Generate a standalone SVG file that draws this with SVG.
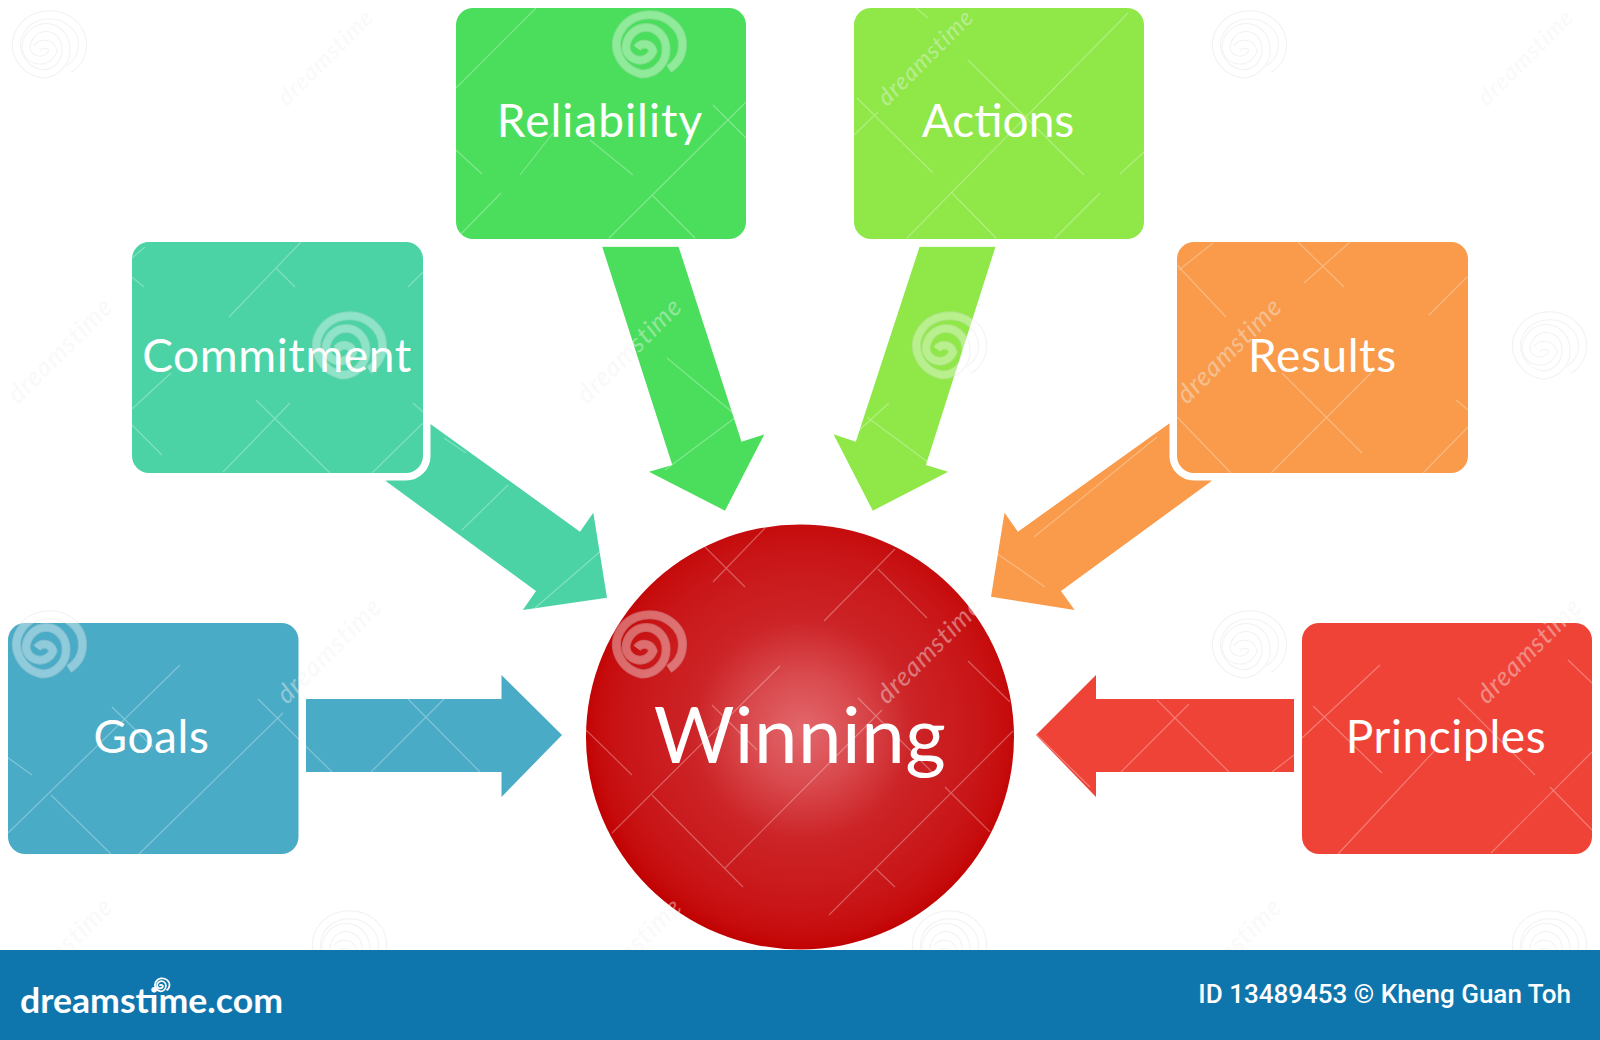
<svg xmlns="http://www.w3.org/2000/svg" xmlns:xlink="http://www.w3.org/1999/xlink" width="1600" height="1040" viewBox="0 0 1600 1040">
<style>
.box{stroke:#fff;stroke-width:15;paint-order:stroke}
.lab{font-family:"Lato","Open Sans",sans-serif;font-size:46px;fill:#fff;text-anchor:middle;letter-spacing:.6px}
.wl{stroke:#fff;stroke-width:1.2;opacity:.3;fill:none}
.wt{font-family:"Lato","Noto Sans",sans-serif;font-style:italic;font-size:26px;fill:#f2f2f2;opacity:.42;letter-spacing:1px}
.wts{font-size:23.5px}
.sp1{fill:none;stroke:#dedede;stroke-width:9}
.sp2{fill:none;stroke:#fff;stroke-width:7}
</style>
<defs>
<radialGradient id="ball" cx="803" cy="730" r="220" gradientUnits="userSpaceOnUse">
<stop offset="0" stop-color="#e2686c"/>
<stop offset=".25" stop-color="#d94a4e"/>
<stop offset=".5" stop-color="#cc2427"/>
<stop offset=".8" stop-color="#c91618"/>
<stop offset=".93" stop-color="#c60c0d"/>
<stop offset="1" stop-color="#c10101"/>
</radialGradient>
<path id="spp" d="M25,24A33,30 0 1 0 -2,29A24,24 0 0 0 22,4A20,21 0 0 0 -18,3A14,14 0 0 0 9,6A9,9 0 0 0 -7,3"/>
<g id="spiral" opacity=".38">
<use href="#spp" class="sp1"/>
<use href="#spp" class="sp2"/>
</g>
</defs>
<rect width="1600" height="1040" fill="#fff"/>
<g id="connectors">
<polygon fill="#4aabc6" points="306,699 501.5,699 501.5,675 562,735 501.5,797 501.5,772 306,772"/>
<polygon fill="#f04338" points="1294,699 1096,699 1096,675 1036,735 1096,797 1096,772 1294,772"/>
<polygon fill="#4bd3a6" points="430.4,424 580,531.7 593.3,512.7 607,597.7 522.8,610 536,591 385.7,481"/>
<polygon fill="#4ade5c" points="602.2,246.7 678.6,246.7 741.5,441.7 764.3,434.3 725,510.7 649,471.7 672.3,465"/>
<polygon fill="#8fe848" points="919.6,246.7 995.5,246.7 925.9,465 948.2,471.7 872.8,510.7 833.5,434.3 855.8,441.7"/>
<polygon fill="#f99b4a" points="1169.6,423.3 1017.9,531.7 1004.5,512.7 991,596.7 1074.6,610 1061,591 1211.6,481"/>
</g>
<g id="node-goals"><rect class="box" x="8" y="623" width="290.500" height="231" rx="17" fill="#4aabc6"/><text class="lab" x="151.500" y="752.700">Goals</text></g>
<g id="node-commitment"><rect class="box" x="132" y="242" width="291" height="231" rx="17" fill="#4bd3a6"/><text class="lab" x="277" y="372">Commitment</text></g>
<g id="node-reliability"><rect class="box" x="456" y="8" width="290" height="231" rx="17" fill="#4ade5c"/><text class="lab" x="600" y="136.700" style="letter-spacing:1px">Reliability</text></g>
<g id="node-actions"><rect class="box" x="854" y="8" width="290" height="231" rx="17" fill="#8fe848"/><text class="lab" x="998" y="136.700" style="letter-spacing:0">Actions</text></g>
<g id="node-results"><rect class="box" x="1177" y="242" width="291" height="231" rx="17" fill="#f99b4a"/><text class="lab" x="1322.400" y="372">Results</text></g>
<g id="node-principles"><rect class="box" x="1302" y="623" width="290" height="231" rx="17" fill="#f04338"/><text class="lab" x="1446" y="752.700">Principles</text></g>
<g id="node-winning"><ellipse cx="800" cy="737" rx="214" ry="212.500" fill="url(#ball)"/><text class="lab" x="800" y="762.700" style="font-size:78px;letter-spacing:.5px">Winning</text></g>
<g id="watermark">
<use href="#spiral" x="44" y="45"/>
<use href="#spiral" x="644" y="45"/>
<use href="#spiral" x="1244" y="45"/>
<use href="#spiral" x="344" y="346"/>
<use href="#spiral" x="944" y="346"/>
<use href="#spiral" x="1544" y="346"/>
<use href="#spiral" x="44" y="645"/>
<use href="#spiral" x="644" y="645"/>
<use href="#spiral" x="1244" y="645"/>
<use href="#spiral" x="344" y="945"/>
<use href="#spiral" x="944" y="945"/>
<use href="#spiral" x="1544" y="945"/>
<text class="wt wts" transform="translate(287,107) rotate(-45)">dreamstime</text>
<text class="wt wts" transform="translate(887,107) rotate(-45)">dreamstime</text>
<text class="wt wts" transform="translate(1487,107) rotate(-45)">dreamstime</text>
<text class="wt" transform="translate(18,405) rotate(-45)">dreamstime</text>
<text class="wt" transform="translate(587,405) rotate(-45)">dreamstime</text>
<text class="wt" transform="translate(1187,405) rotate(-45)">dreamstime</text>
<text class="wt" transform="translate(287,705) rotate(-45)">dreamstime</text>
<text class="wt" transform="translate(887,705) rotate(-45)">dreamstime</text>
<text class="wt" transform="translate(1487,705) rotate(-45)">dreamstime</text>
<text class="wt" transform="translate(18,1005) rotate(-45)">dreamstime</text>
<text class="wt" transform="translate(587,1005) rotate(-45)">dreamstime</text>
<text class="wt" transform="translate(1187,1005) rotate(-45)">dreamstime</text>
<g class="wl">
<path d="M8,833L180,665M51,795L111,854M139,854L283,713M258,699L332,772M444,699L371,772M408,699L480,772M0,752L32,775M112,707L153,747"/>
<path d="M765,528L713,582M705,547L745,587M895,549L824,621M878,569L927,618M780,666L612,833M712,705L757,750M858,698L933,773M882,710L725,868M586,730L632,775M652,795L743,887M968,661L1010,702M1013,731L829,915M945,787L990,832M875,868L895,887"/>
<path d="M301,242L229,317M276,268L295,287M171,373L132,409M132,425L162,455M256,400L330,473M290,403L223,472M132,277L144,287M145,247L132,258M423,272L408,287M413,403L423,412M423,423L372,473M508,485L462,530M602,550L535,608M444,438L466,453"/>
<path d="M667,358L738,417M736,417L665,470M889,403L856,433M867,417L929,463"/>
<path d="M1177,265L1226,317M1213,243L1179,270M1298,242L1344,287M1350,242L1304,283M1467,277L1429,315M1282,373L1362,453M1371,373L1271,473M1177,417L1231,473M1456,400L1468,410M1468,427L1423,473M1157,437L1034,537M992,550L1045,587"/>
<path d="M536,8L456,88M456,150L482,174M553,133L520,175M590,140L633,175M501,193L458,237M746,102L609,238M713,105L746,138M652,195L695,238"/>
<path d="M854,135L878,112M857,98L933,173M916,8L928,18M1128,13L907,238M968,60L1084,175M1144,152L1120,174M951,192L996,238M1100,193L1055,238"/>
<path d="M1380,665L1302,738M1313,706L1382,773M1458,698L1535,775M1550,787L1592,830M1592,752L1491,853M1438,747L1338,854M1568,660L1592,683M1157,700L1229,772M1189,704L1121,772M1037,735L1090,787M1294,755L1272,772"/>
</g>
</g>
<g id="banner">
<rect y="950" width="1600" height="90" fill="#0f76ad"/>
<text x="20" y="1012.700" textLength="263" lengthAdjust="spacingAndGlyphs" style="font-family:'Lato','Noto Sans',sans-serif;font-size:34px;font-weight:700;fill:#fff">dreamstime.com</text>
<use href="#spp" transform="translate(161,985) scale(.22)" fill="none" stroke="#fff" stroke-width="8"/>
<text x="1571" y="1003" text-anchor="end" style="font-family:Roboto,'Liberation Sans',sans-serif;font-size:26px;font-weight:500;fill:#fff">ID 13489453 © Kheng Guan Toh</text>
</g>
</svg>
